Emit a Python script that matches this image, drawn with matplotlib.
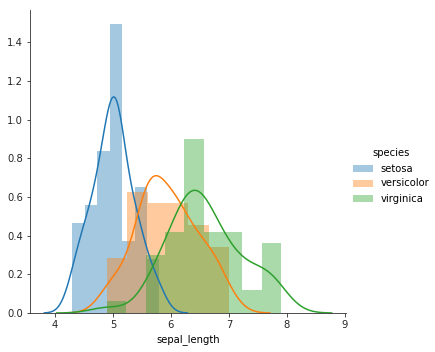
import numpy as np
import matplotlib
matplotlib.use("Agg")
import matplotlib.pyplot as plt
from matplotlib.mlab import GaussianKDE
from matplotlib.patches import Patch

species = ["setosa", "versicolor", "virginica"]
colors = ["#1f77b4", "#ff7f0e", "#2ca02c"]

setosa = [5.1, 4.9, 4.7, 4.6, 5.0, 5.4, 4.6, 5.0, 4.4, 4.9, 5.4, 4.8, 4.8, 4.3, 5.8, 5.7, 5.4, 5.1, 5.7, 5.1,
          5.4, 5.1, 4.6, 5.1, 4.8, 5.0, 5.0, 5.2, 5.2, 4.7, 4.8, 5.4, 5.2, 5.5, 4.9, 5.0, 5.5, 4.9, 4.4, 5.1,
          5.0, 4.5, 4.4, 5.0, 5.1, 4.8, 5.1, 4.6, 5.3, 5.0]
versicolor = [7.0, 6.4, 6.9, 5.5, 6.5, 5.7, 6.3, 4.9, 6.6, 5.2, 5.0, 5.9, 6.0, 6.1, 5.6, 6.7, 5.6, 5.8, 6.2, 5.6,
              5.9, 6.1, 6.3, 6.1, 6.4, 6.6, 6.8, 6.7, 6.0, 5.7, 5.5, 5.5, 5.8, 6.0, 5.4, 6.0, 6.7, 6.3, 5.6, 5.5,
              5.5, 6.1, 5.8, 5.0, 5.6, 5.7, 5.7, 6.2, 5.1, 5.7]
virginica = [6.3, 5.8, 7.1, 6.3, 6.5, 7.6, 4.9, 7.3, 6.7, 7.2, 6.5, 6.4, 6.8, 5.7, 5.8, 6.4, 6.5, 7.7, 7.7, 6.0,
             6.9, 5.6, 7.7, 6.3, 6.7, 7.2, 6.2, 6.1, 6.4, 7.2, 7.4, 7.9, 6.4, 6.3, 6.1, 7.7, 6.3, 6.4, 6.0, 6.9,
             6.7, 6.9, 5.8, 6.8, 6.7, 6.7, 6.3, 6.5, 6.2, 5.9]
groups = [setosa, versicolor, virginica]

xticks = [4, 5, 6, 7, 8, 9]
yticks = [0.0, 0.2, 0.4, 0.6, 0.8, 1.0, 1.2, 1.4]


def fd_bins(a):
    a = np.asarray(a)
    iqr = np.subtract(*np.percentile(a, [75, 25]))
    h = 2 * iqr / (len(a) ** (1 / 3))
    if h == 0:
        return int(np.sqrt(a.size))
    return int(np.ceil((a.max() - a.min()) / h))


fig = plt.figure(figsize=(435 / 72, 352 / 72), dpi=72)
ax = fig.add_axes([30 / 435, 39 / 352, 316 / 435, 303 / 352])

for data, c in zip(groups, colors):
    a = np.asarray(data, float)
    bins = min(fd_bins(a), 50)
    ax.hist(a, bins=bins, density=True, alpha=0.4, color=c)
    kde = GaussianKDE(a, bw_method="scott")
    bw = kde.factor * a.std(ddof=1)
    grid = np.linspace(a.min() - 3 * bw, a.max() + 3 * bw, 100)
    ax.plot(grid, kde.evaluate(grid), color=c, lw=1.5)

ax.set_xticks(xticks)
ax.set_yticks(yticks)
ax.set_xlabel("sepal_length", fontsize=10)
ax.tick_params(labelsize=10, length=3.5, width=0.8, colors="#262626")
for s in ["top", "right"]:
    ax.spines[s].set_visible(False)
for s in ["left", "bottom"]:
    ax.spines[s].set_color("#262626")

handles = [Patch(facecolor=c, alpha=0.4) for c in colors]
fig.legend(handles, species, title="species", loc="center left",
           bbox_to_anchor=(0.79, 0.5), frameon=False, fontsize=10, title_fontsize=10)

fig.savefig("out.png", dpi=72)
